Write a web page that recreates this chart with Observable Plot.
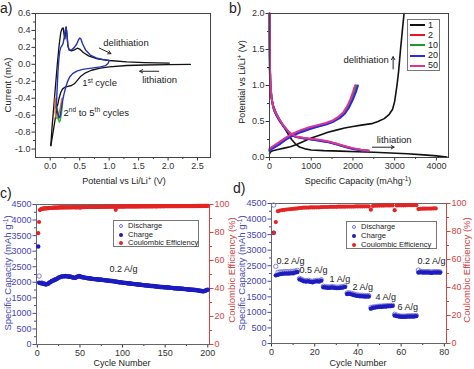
<!DOCTYPE html>
<html><head><meta charset="utf-8">
<script src="https://cdn.jsdelivr.net/npm/d3@7"></script>
<script src="https://cdn.jsdelivr.net/npm/@observablehq/plot@0.6"></script>
<style>
html,body{margin:0;padding:0;background:#fff;}
#root{position:relative;width:474px;height:369px;overflow:hidden;font-family:"Liberation Sans",Arial,sans-serif;color:#222;}
.t{position:absolute;white-space:nowrap;line-height:1;}
.t sup{font-size:70%;vertical-align:0.45em;line-height:0;}
.leg{position:absolute;border:1px solid #777;background:#fff;box-sizing:border-box;}
.row{position:absolute;white-space:nowrap;line-height:1;}
.sw{position:absolute;}
</style></head><body><div id="root"></div>
<script>
// ---------- Panel a: cyclic voltammetry (potential V, current mA) ----------
const aCycle1Lith = [[2.38,0.0],[2.0,-0.004],[1.6,-0.008],[1.3,-0.014],[1.0,-0.03],[0.85,-0.045],[0.7,-0.07],[0.6,-0.1],[0.52,-0.14],[0.46,-0.19],[0.41,-0.23],[0.36,-0.25],[0.3,-0.26],[0.25,-0.27],[0.21,-0.29],[0.18,-0.33],[0.15,-0.4],[0.12,-0.5],[0.09,-0.62],[0.06,-0.75],[0.03,-0.88],[0.01,-0.96]];
const aCycle1Delith = [[0.01,-0.96],[0.03,-0.75],[0.06,-0.5],[0.09,-0.25],[0.12,0.0],[0.15,0.22],[0.18,0.38],[0.2,0.42],[0.22,0.43],[0.235,0.35],[0.25,0.3],[0.26,0.4],[0.27,0.44],[0.28,0.38],[0.3,0.22],[0.32,0.17],[0.36,0.16],[0.41,0.17],[0.46,0.19],[0.5,0.18],[0.56,0.14],[0.65,0.1],[0.8,0.065],[1.0,0.045],[1.3,0.028],[1.6,0.02],[2.02,0.014]];
const aCycle5 = [[1.0,0.04],[0.98,0.01],[0.94,-0.015],[0.85,-0.03],[0.7,-0.045],[0.55,-0.06],[0.45,-0.08],[0.38,-0.11],[0.33,-0.15],[0.29,-0.21],[0.26,-0.28],[0.23,-0.36],[0.2,-0.47],[0.18,-0.56],[0.165,-0.62],[0.15,-0.63],[0.13,-0.58],[0.11,-0.53],[0.1,-0.51],[0.11,-0.4],[0.12,-0.25],[0.13,-0.1],[0.145,0.05],[0.16,0.15],[0.18,0.2],[0.2,0.22],[0.22,0.25],[0.24,0.33],[0.26,0.42],[0.27,0.44],[0.285,0.35],[0.3,0.22],[0.32,0.17],[0.36,0.17],[0.41,0.2],[0.45,0.24],[0.48,0.29],[0.5,0.31],[0.52,0.3],[0.55,0.24],[0.6,0.17],[0.68,0.11],[0.78,0.075],[0.9,0.055],[1.0,0.045]];
const aCycle2Tip = [[0.2,-0.4],[0.17,-0.52],[0.14,-0.6],[0.12,-0.64],[0.1,-0.63],[0.085,-0.57],[0.08,-0.5],[0.085,-0.4]];
const aCycle3Tip = [[0.21,-0.45],[0.19,-0.58],[0.17,-0.66],[0.155,-0.68],[0.14,-0.65],[0.125,-0.58],[0.12,-0.5]];
const aXTicks = [0,0.5,1,1.5,2,2.5], aXMinor = [0.25,0.75,1.25,1.75,2.25];
const aYTicks = [-1.0,-0.8,-0.6,-0.4,-0.2,0,0.2,0.4,0.6], aYMinor = [-0.9,-0.7,-0.5,-0.3,-0.1,0.1,0.3,0.5];
const aNotes = [{x:0.9,y:0.247,t:"delithiation"},{x:1.56,y:-0.19,t:"lithiation"},{x:0.545,y:-0.22,t:"1^st cycle"},{x:0.226,y:-0.573,t:"2^nd to 5^th cycles"}];
const aArrows = [{x1:0.833,y1:0.192,x2:1.03,y2:0.126},{x1:1.842,y1:-0.082,x2:1.519,y2:-0.082}];

// ---------- Panel b: voltage profiles (capacity mAh/g, potential V) ----------
const b1Lith = [[0,1.25],[15,1.0],[40,0.85],[90,0.72],[160,0.62],[250,0.52],[350,0.42],[450,0.32],[530,0.25],[620,0.19],[720,0.145],[850,0.12],[1000,0.105],[1300,0.095],[1700,0.088],[2100,0.08],[2500,0.072],[2900,0.063],[3300,0.052],[3700,0.037],[4000,0.022],[4250,0.005]];
const b1Delith = [[0,0.05],[20,0.075],[80,0.095],[200,0.11],[350,0.13],[500,0.15],[650,0.18],[800,0.22],[1000,0.27],[1200,0.31],[1400,0.35],[1600,0.38],[1800,0.41],[2000,0.43],[2200,0.45],[2450,0.47],[2600,0.5],[2750,0.54],[2870,0.6],[2950,0.67],[3000,0.78],[3030,0.9],[3055,1.0],[3095,1.2],[3140,1.5],[3190,1.8],[3225,2.0]];
const b2Lith = [[0,2.0],[4,1.6],[10,1.25],[22,1.02],[40,0.88],[65,0.77],[100,0.68],[160,0.6],[240,0.52],[330,0.44],[430,0.37],[520,0.32],[620,0.29],[800,0.27],[1000,0.255],[1200,0.24],[1400,0.22],[1600,0.19],[1800,0.155],[2000,0.125],[2200,0.105],[2380,0.095]];
const b2Delith = [[0,0.11],[40,0.13],[120,0.16],[250,0.21],[400,0.27],[550,0.32],[750,0.37],[950,0.41],[1150,0.44],[1350,0.47],[1500,0.5],[1650,0.55],[1770,0.61],[1870,0.7],[1950,0.8],[2010,0.9],[2060,1.0]];
const b10Lith = [[0,2.0],[4,1.58],[11,1.22],[23,1.0],[42,0.87],[68,0.76],[105,0.67],[165,0.59],[245,0.51],[335,0.44],[435,0.37],[525,0.32],[630,0.29],[810,0.27],[1010,0.25],[1210,0.235],[1410,0.215],[1610,0.185],[1810,0.15],[2010,0.12],[2210,0.1],[2360,0.095]];
const b10Delith = [[0,0.1],[45,0.125],[125,0.155],[255,0.2],[405,0.265],[555,0.315],[760,0.365],[960,0.405],[1160,0.435],[1360,0.465],[1520,0.5],[1670,0.55],[1790,0.61],[1890,0.7],[1970,0.8],[2035,0.9],[2085,1.0]];
const b20Lith = [[0,2.0],[5,1.56],[12,1.2],[24,0.99],[44,0.86],[70,0.75],[108,0.66],[170,0.58],[250,0.5],[340,0.43],[440,0.36],[530,0.31],[640,0.285],[820,0.265],[1020,0.25],[1220,0.23],[1420,0.21],[1620,0.18],[1820,0.145],[2020,0.115],[2220,0.1],[2340,0.095]];
const b20Delith = [[0,0.09],[50,0.115],[130,0.145],[260,0.19],[410,0.255],[560,0.305],[770,0.355],[970,0.395],[1170,0.43],[1370,0.46],[1540,0.5],[1690,0.55],[1810,0.61],[1910,0.7],[1995,0.8],[2065,0.9],[2120,1.0]];
const b50Lith = [[0,2.0],[4,1.62],[10,1.27],[21,1.03],[39,0.89],[63,0.78],[98,0.69],[158,0.61],[238,0.53],[328,0.45],[428,0.38],[518,0.33],[615,0.295],[795,0.275],[995,0.26],[1195,0.245],[1395,0.225],[1595,0.195],[1795,0.16],[1995,0.13],[2195,0.108],[2370,0.098]];
const b50Delith = [[0,0.12],[40,0.14],[120,0.17],[250,0.22],[400,0.28],[550,0.33],[750,0.38],[950,0.42],[1150,0.45],[1350,0.48],[1500,0.51],[1640,0.56],[1760,0.62],[1860,0.71],[1940,0.81],[2000,0.91],[2050,1.0]];
const bCycles = ["1","2","10","20","50"];
const bColors = ["#111111","#e8142c","#1f9a2a","#2a2ae6","#e0358f"];
const bXTicks = [0,1000,2000,3000,4000], bXMinor = [500,1500,2500,3500];
const bYTicks = [0,0.5,1,1.5,2], bYMinor = [0.25,0.75,1.25,1.75];
const bNotes = [{x:1772,y:1.357,t:"delithiation"},{x:2570,y:0.245,t:"lithiation"}];
const bArrows = [{x1:2963,y1:1.23,x2:2963,y2:1.40},{x1:2467,y1:0.143,x2:2986,y2:0.143}];

// ---------- Panel c: 200 cycles at 0.2 A/g ----------
const cCharge = [3150,1990,1980,1970,1990,1960,1950,1960,1940,1930,
1940,1950,1960,1990,2000,2020,2040,2050,2060,2080,
2080,2100,2110,2130,2150,2160,2170,2180,2190,2190,
2190,2190,2200,2190,2190,2190,2180,2190,2180,2170,
2160,2150,2150,2140,2150,2170,2180,2190,2200,2190,
2180,2170,2160,2160,2150,2150,2140,2140,2130,2130,
2130,2120,2120,2110,2110,2110,2100,2100,2100,2090,
2090,2090,2090,2080,2080,2080,2070,2070,2070,2060,
2060,2060,2050,2050,2050,2040,2040,2040,2030,2030,
2030,2020,2020,2010,2010,2000,2000,2000,1990,1990,
1990,1980,1980,1980,1970,1970,1970,1960,1960,1960,
1950,1950,1950,1940,1940,1940,1930,1930,1930,1920,
1920,1920,1910,1910,1910,1900,1900,1900,1900,1890,
1890,1890,1880,1880,1880,1880,1870,1870,1870,1860,
1860,1860,1860,1850,1850,1850,1850,1840,1840,1840,
1840,1830,1830,1830,1830,1820,1820,1820,1820,1810,
1810,1810,1810,1800,1800,1800,1800,1790,1790,1790,
1790,1780,1780,1780,1780,1770,1770,1770,1770,1760,
1760,1760,1760,1750,1750,1750,1740,1740,1740,1730,
1730,1720,1720,1710,1710,1720,1730,1740,1750,1760];
const cDischargeCycles = [2], cDischarge = [2200];
const cCE = [79.5,87.5,96,96.6,96.8,97,97.1,97.2,97.2,97.3,
97.3,97.4,97.4,97.5,97.5,97.6,97.6,97.6,97.7,97.7,
97.7,97.8,97.8,97.8,97.8,97.9,97.9,97.9,97.9,97.9,
98,97.9,98,98,97.9,98,98,98,98,98,
98,98.1,98,98.1,98,97.9,98,98.1,98,97.8,
98,98.1,98.1,98.1,98.1,98.2,98.1,98.2,98.2,98.2,
98.2,98.2,98.2,98.3,98.2,98.3,98.3,98.3,98.3,98.3,
98.3,98.3,98.4,98.3,98.4,98.4,98.4,98.4,98.4,98.4,
98.4,98.4,98.4,98.5,98.4,98.5,98.5,98.5,98.5,98.5,
98.5,96.2,98.4,98.5,98.5,98.5,98.5,98.5,98.6,98.5,
98.5,98.6,98.5,98.6,98.6,98.6,98.6,98.6,98.6,98.6,
98.6,98.6,98.6,98.6,98.6,98.6,98.6,98.7,98.6,98.6,
98.7,98.6,98.7,98.7,98.7,98.6,98.7,98.7,98.7,98.7,
98.7,98.7,98.7,98.7,98.7,98.7,98.8,98.7,98.7,98.7,
98.7,98.8,98.7,98.8,98.7,98.8,98.8,98.7,98.8,98.8,
98.8,98.8,98.8,98.8,98.8,98.8,98.8,98.8,98.8,98.8,
98.8,98.9,98.8,98.8,98.9,98.8,98.9,98.8,98.9,98.9,
98.9,98.9,98.9,98.9,98.9,98.9,98.9,98.9,98.9,98.9,
98.9,98.9,98.9,98.9,98.9,99,98.9,98.9,99,98.9,
99,99,98.9,99,99,99,99,99,99,99];
const cXTicks = [0,50,100,150,200], cXMinor = [25,75,125,175];
const cNotes = [{x:101,y:2410,t:"0.2 A/g"}];

// ---------- Panel d: rate capability ----------
const dCharge = [3560,
2190,2210,2230,2240,2250,2250,2250,2260,2260,2280,2300,
2060,2030,2000,1990,2000,1980,1970,1990,2000,1990,2020,
1810,1800,1790,1790,1800,1790,1780,1780,1790,1800,1820,
1590,1600,1580,1560,1540,1530,1520,1520,1510,1510,1510,
1120,1150,1160,1170,1180,1180,1190,1190,1200,1200,1210,
900,880,870,860,860,860,870,870,870,870,880,
2280,2290,2280,2280,2280,2280,2270,2280,2280,2280,2280];
const dDischarge = [4450,
2480,2290,2300,2300,2310,2310,2310,2320,2320,2330,2350,
2090,2060,2030,2020,2030,2010,2000,2020,2030,2020,2050,
1840,1830,1820,1820,1830,1820,1810,1810,1820,1830,1850,
1620,1630,1610,1590,1570,1560,1550,1550,1540,1540,1540,
1160,1170,1180,1190,1200,1200,1210,1210,1220,1220,1230,
940,910,890,880,880,880,890,890,890,890,900,
2360,2320,2310,2310,2310,2310,2300,2310,2310,2310,2300];
const dCE = [79,86.7,94.5,95,95.3,95.5,95.7,95.9,96,96.2,96.3,96.5,
96.8,96.9,97,97.1,97.1,97.2,97.2,97.3,97.3,97.3,97.4,
97.5,97.5,97.5,97.6,97.6,97.6,97.6,97.7,97.7,97.7,97.7,
97.8,97.8,97.8,97.8,97.9,97.9,97.9,97.9,98,98,98,
95.6,98.3,98.4,98.4,98.5,98.5,98.5,98.6,98.6,98.6,98.6,
95.2,98.6,98.7,98.7,98.7,98.7,98.8,98.8,98.8,98.8,98.8,
96,96.2,96.3,96.3,96.4,96.4,96.4,96.5,96.5];
const dXTicks = [0,20,40,60,80], dXMinor = [10,30,50,70];
const dNotes = [{x:2.3,y:2636,t:"0.2 A/g"},{x:13,y:2346,t:"0.5 A/g"},{x:26.9,y:2057,t:"1 A/g"},{x:37.5,y:1800,t:"2 A/g"},{x:48.1,y:1479,t:"4 A/g"},{x:58.3,y:1157,t:"6 A/g"},{x:67.6,y:2636,t:"0.2 A/g"}];

// shared capacity / CE axes
const capTicks = [0,500,1000,1500,2000,2500,3000,3500,4000,4500];
const capMinor = [250,750,1250,1750,2250,2750,3250,3750,4250];
const ceTicks = [0,20,40,60,80,100], ceMinor = [10,30,50,70,90];
const CAP_MAX = 4500, CE_MAX = 100;
const K = CAP_MAX / CE_MAX;

// ---------- styles ----------
const FONT = '"Liberation Sans", Arial, sans-serif';
const BLUE = "#1c1cc0", BLUE_OPEN = "#7474d4", RED = "#e42424";
const AXBLUE = "#4646b4", AXRED = "#d24444", AXK = "#333";
const root = document.getElementById("root");

function mount(el, left, top) {
  el.style.position = "absolute"; el.style.left = left + "px"; el.style.top = top + "px";
  el.style.background = "transparent"; el.style.maxWidth = "none"; el.style.overflow = "visible";
  root.appendChild(el);
}
function txt(html, x, y, {size = 9, color = "#222", rot = 0, anchor = "middle"} = {}) {
  const d = document.createElement("div"); d.className = "t"; d.innerHTML = html;
  d.style.fontSize = size + "px"; d.style.color = color; d.style.left = x + "px"; d.style.top = y + "px";
  const tx = anchor === "middle" ? "-50%" : anchor === "start" ? "0" : "-100%";
  d.style.transform = `translate(${tx},-50%)` + (rot ? ` rotate(${rot}deg)` : "");
  root.appendChild(d);
}
function supify(svg) {
  svg.querySelectorAll("text").forEach(t => {
    const s = t.textContent;
    if (!s.includes("^")) return;
    const parts = s.split(/\^(\w+)/);
    t.textContent = "";
    parts.forEach((p, i) => {
      if (!p) return;
      const ts = document.createElementNS("http://www.w3.org/2000/svg", "tspan");
      ts.textContent = p;
      if (i % 2 === 1) { ts.setAttribute("dy", "-3.5"); ts.setAttribute("font-size", "6.5"); }
      else if (i > 0) { ts.setAttribute("dy", "3.5"); }
      t.appendChild(ts);
    });
  });
}
function axes({xT, xM, yT, yM, xF, yF, xColor = AXK, yColor = AXK}) {
  return [
    Plot.axisX({ticks: xM, tickSize: 2, tickFormat: () => "", color: xColor, label: null}),
    Plot.axisX({ticks: xT, tickSize: 3.5, tickPadding: 1.5, tickFormat: xF, color: xColor, label: null}),
    Plot.axisY({ticks: yM, tickSize: 2, tickFormat: () => "", color: yColor, label: null}),
    Plot.axisY({ticks: yT, tickSize: 3.5, tickPadding: 1.5, tickFormat: yF, color: yColor, label: null})
  ];
}
const pts = arr => arr.map(([x, y]) => ({x, y}));
const baseStyle = {fontFamily: FONT, fontSize: "9px", color: "#222", background: "transparent"};

// ---------- Panel a ----------
const plotA = Plot.plot({
  width: 237, height: 180, marginLeft: 35, marginRight: 27, marginTop: 13, marginBottom: 23,
  x: {domain: [-0.25, 2.72]}, y: {domain: [-1.1, 0.6]}, style: baseStyle,
  marks: [
    ...axes({xT: aXTicks, xM: aXMinor, yT: aYTicks, yM: aYMinor, xF: d => d.toFixed(1), yF: d => d.toFixed(1)}),
    Plot.line(pts(aCycle1Lith), {x: "x", y: "y", stroke: "#111", strokeWidth: 1.3}),
    Plot.line(pts(aCycle1Delith), {x: "x", y: "y", stroke: "#111", strokeWidth: 1.3}),
    Plot.line(pts(aCycle2Tip), {x: "x", y: "y", stroke: "#e0742a", strokeWidth: 1.5}),
    Plot.line(pts(aCycle3Tip), {x: "x", y: "y", stroke: "#30b030", strokeWidth: 1.5}),
    Plot.line(pts(aCycle5), {x: "x", y: "y", stroke: "#2633b4", strokeWidth: 1.4}),
    Plot.arrow(aArrows, {x1: "x1", y1: "y1", x2: "x2", y2: "y2", stroke: "#222", strokeWidth: 1, headLength: 5}),
    Plot.text(aNotes, {x: "x", y: "y", text: "t", textAnchor: "start", fontSize: 9.5, fill: "#222"}),
    Plot.frame({stroke: "#444"})
  ]
});
supify(plotA);
mount(plotA, 0, 0);

// ---------- Panel b ----------
const bLines = [[b1Lith, b1Delith], [b2Lith, b2Delith], [b10Lith, b10Delith], [b20Lith, b20Delith], [b50Lith, b50Delith]];
const plotB = Plot.plot({
  width: 237, height: 180, marginLeft: 32, marginRight: 26, marginTop: 13, marginBottom: 23,
  x: {domain: [0, 4290]}, y: {domain: [0, 2]}, style: baseStyle,
  marks: [
    ...axes({xT: bXTicks, xM: bXMinor, yT: bYTicks, yM: bYMinor, xF: d => String(d), yF: d => d.toFixed(1)}),
    ...bLines.flatMap(([l, dl], i) => [
      Plot.line(pts(l), {x: "x", y: "y", stroke: bColors[i], strokeWidth: i === 0 ? 1.6 : 2}),
      Plot.line(pts(dl), {x: "x", y: "y", stroke: bColors[i], strokeWidth: i === 0 ? 1.6 : 2})
    ]),
    Plot.arrow(bArrows, {x1: "x1", y1: "y1", x2: "x2", y2: "y2", stroke: "#222", strokeWidth: 1, headLength: 5}),
    Plot.text(bNotes, {x: "x", y: "y", text: "t", textAnchor: "start", fontSize: 9.5, fill: "#222"}),
    Plot.frame({stroke: "#444"})
  ]
});
mount(plotB, 237, 0);

// ---------- Panel c ----------
const cChargeData = cCharge.map((v, i) => ({x: i + 1, y: v}));
const cDisData = cDischargeCycles.map((c, i) => ({x: c, y: cDischarge[i]}));
const cCEData = cCE.map((v, i) => ({x: i + 1, y: v * K}));
function rightAxis() {
  return [
    Plot.axisY({anchor: "right", ticks: ceMinor.map(v => v * K), tickSize: 2, tickFormat: () => "", color: AXRED, label: null}),
    Plot.axisY({anchor: "right", ticks: ceTicks.map(v => v * K), tickSize: 3.5, tickPadding: 1.5, tickFormat: d => String(Math.round(d / K)), color: AXRED, label: null})
  ];
}
const plotC = Plot.plot({
  width: 237, height: 189, marginLeft: 36, marginRight: 28, marginTop: 24, marginBottom: 25,
  x: {domain: [-1, 202]}, y: {domain: [0, CAP_MAX]}, style: baseStyle,
  marks: [
    ...axes({xT: cXTicks, xM: cXMinor, yT: capTicks, yM: capMinor, xF: d => String(d), yF: d => String(d), yColor: AXBLUE}),
    ...rightAxis(),
    Plot.frame({stroke: "#666"}),
    Plot.ruleX([202], {stroke: AXRED, strokeWidth: 1}),
    Plot.dot(cDisData, {x: "x", y: "y", r: 2.2, stroke: BLUE_OPEN, fill: "none", strokeWidth: 0.9}),
    Plot.dot(cChargeData, {x: "x", y: "y", r: 2.2, fill: BLUE, stroke: "none"}),
    Plot.dot(cCEData, {x: "x", y: "y", r: 2.1, fill: RED, stroke: "none"}),
    Plot.text(cNotes, {x: "x", y: "y", text: "t", fontSize: 9, fill: "#222"})
  ]
});
mount(plotC, 0, 180);

// ---------- Panel d ----------
const dChargeData = dCharge.map((v, i) => ({x: i + 1, y: v}));
const dDisData = dDischarge.map((v, i) => ({x: i + 1, y: v}));
const dCEData = dCE.map((v, i) => ({x: i + 1, y: v * K}));
const plotD = Plot.plot({
  width: 237, height: 189, marginLeft: 34, marginRight: 28, marginTop: 23, marginBottom: 26,
  x: {domain: [0, 81]}, y: {domain: [0, CAP_MAX]}, style: baseStyle,
  marks: [
    ...axes({xT: dXTicks, xM: dXMinor, yT: capTicks, yM: capMinor, xF: d => String(d), yF: d => String(d), yColor: AXBLUE}),
    ...rightAxis(),
    Plot.frame({stroke: "#666"}),
    Plot.ruleX([81], {stroke: AXRED, strokeWidth: 1}),
    Plot.dot(dDisData, {x: "x", y: "y", r: 2.2, stroke: BLUE_OPEN, fill: "none", strokeWidth: 0.9}),
    Plot.dot(dChargeData, {x: "x", y: "y", r: 2.2, fill: BLUE, stroke: "none"}),
    Plot.dot(dCEData, {x: "x", y: "y", r: 2.1, fill: RED, stroke: "none"}),
    Plot.text(dNotes, {x: "x", y: "y", text: "t", textAnchor: "start", fontSize: 9, fill: "#222"})
  ]
});
mount(plotD, 237, 180);

// ---------- titles, panel letters ----------
txt("a)", 0, 8, {size: 14, anchor: "start"});
txt("b)", 229, 8, {size: 14, anchor: "start"});
txt("c)", 0, 193, {size: 14, anchor: "start"});
txt("d)", 233, 188, {size: 14, anchor: "start"});
txt("Potential vs Li/Li<sup>+</sup> (V)", 124, 181, {size: 9});
txt("Current (mA)", 8, 85, {size: 9.5, rot: -90});
txt("Specific Capacity (mAhg<sup>-1</sup>)", 358, 181, {size: 9});
txt("Potential vs Li/Li<sup>+</sup> (V)", 242, 82, {size: 9, rot: -90});
txt("Cycle Number", 122, 363, {size: 9});
txt("Cycle Number", 358, 363, {size: 9});
txt("Specific Capacity (mAh g<sup>-1</sup>)", 8, 273, {size: 9.5, rot: -90, color: AXBLUE});
txt("Coulombic Efficiency (%)", 232, 270, {size: 9.5, rot: -90, color: AXRED});
txt("Specific Capacity (mAh g<sup>-1</sup>)", 242, 273, {size: 9.5, rot: -90, color: AXBLUE});
txt("Coulombic Efficiency (%)", 467, 270, {size: 9.5, rot: -90, color: AXRED});

// ---------- legends ----------
function legendB() {
  const box = document.createElement("div"); box.className = "leg";
  Object.assign(box.style, {left: "407px", top: "19px", width: "33px", height: "52px"});
  bCycles.forEach((c, i) => {
    const y = 5 + i * 10.2;
    const sw = document.createElement("div"); sw.className = "sw";
    Object.assign(sw.style, {left: "2px", top: (y - 1) + "px", width: "15px", height: "2px", background: bColors[i]});
    const lb = document.createElement("div"); lb.className = "row"; lb.textContent = c;
    Object.assign(lb.style, {left: "20px", top: (y - 4.5) + "px", fontSize: "9px"});
    box.appendChild(sw); box.appendChild(lb);
  });
  root.appendChild(box);
}
legendB();
const cdLegend = [{t: "Discharge", open: true, c: BLUE_OPEN}, {t: "Charge", open: false, c: BLUE}, {t: "Coulombic Efficiency", open: false, c: RED}];
function legendCD(left, top, w, h, step) {
  const box = document.createElement("div"); box.className = "leg";
  Object.assign(box.style, {left: left + "px", top: top + "px", width: w + "px", height: h + "px"});
  cdLegend.forEach((e, i) => {
    const y = 5 + i * step;
    const sw = document.createElement("div"); sw.className = "sw";
    Object.assign(sw.style, {left: "5px", top: (y - 2) + "px", width: "4px", height: "4px", borderRadius: "50%", boxSizing: "border-box",
      background: e.open ? "#fff" : e.c, border: e.open ? `1px solid ${e.c}` : "none"});
    const lb = document.createElement("div"); lb.className = "row"; lb.textContent = e.t;
    Object.assign(lb.style, {left: "14px", top: (y - 4) + "px", fontSize: "7.6px"});
    box.appendChild(sw); box.appendChild(lb);
  });
  root.appendChild(box);
}
legendCD(113, 220, 86, 27, 8.5);
legendCD(346, 221, 91, 28, 9);
</script></body></html>
